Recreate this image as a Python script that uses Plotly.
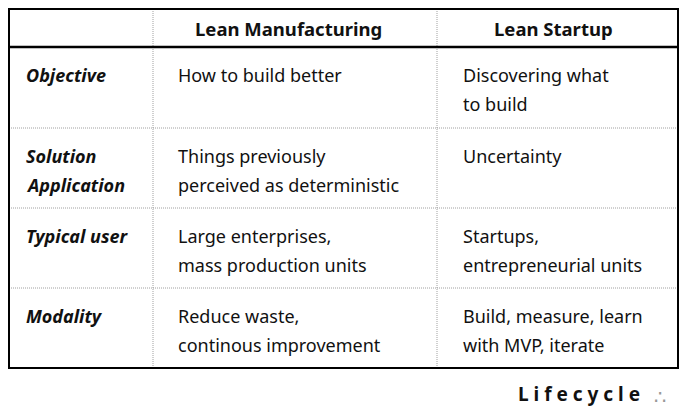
import plotly.graph_objects as go

headers = ["Lean Manufacturing", "Lean Startup"]
criteria = ["Objective", "Solution<br>Application", "Typical user", "Modality"]
manufacturing = [
    "How to build better",
    "Things previously<br>perceived as deterministic",
    "Large enterprises,<br>mass production units",
    "Reduce waste,<br>continous improvement",
]
startup = [
    "Discovering what<br>to build",
    "Uncertainty",
    "Startups,<br>entrepreneurial units",
    "Build, measure, learn<br>with MVP, iterate",
]

# page body has an 8px margin, so the figure is drawn 8px in from the window edge
OFF = 8
W, H = 689 - OFF, 417 - OFF
def px_x(v): return (v - OFF) / W
def px_y(v): return 1 - (v - OFF) / H

FONT = "Noto Sans"
row_tops = [47, 128, 208, 288]
col_x = [24, 176, 461]
header_x = [288, 553]

ann = []
for hx, h in zip(header_x, headers):
    ann.append(dict(text="<b>%s</b>" % h, x=px_x(hx), y=px_y(29), xanchor="center",
                    font=dict(family=FONT, size=18.5, color="#111")))
for col, texts in enumerate([criteria, manufacturing, startup]):
    for r, t in enumerate(texts):
        for k, line in enumerate(t.split("<br>")):
            if col == 0:
                line = "<b><i>%s</i></b>" % line
            ann.append(dict(text=line, x=px_x(col_x[col]), y=px_y(row_tops[r] + 28 + 29 * k),
                            xanchor="left", font=dict(family=FONT, size=18, color="#111")))
for a in ann:
    a.update(xref="paper", yref="paper", yanchor="middle", showarrow=False)

ann.append(dict(text="<b>L i f e c y c l e</b>", x=px_x(642), y=px_y(394), xref="paper", yref="paper",
                xanchor="right", yanchor="middle", showarrow=False,
                font=dict(family=FONT, size=19, color="#111")))
ann.append(dict(text="∴", x=px_x(660), y=px_y(397), xref="paper", yref="paper",
                xanchor="center", yanchor="middle", showarrow=False,
                font=dict(family="DejaVu Sans", size=20, color="#999")))

L, R, T, B = 9, 678, 9, 368
dotted = dict(color="#888", width=0.8, dash="1px,1px")
shapes = []
for y in [128, 208, 288]:
    shapes.append(dict(type="line", xref="paper", yref="paper", x0=px_x(L), x1=px_x(R),
                       y0=px_y(y), y1=px_y(y), line=dotted))
for x in [153, 437]:
    shapes.append(dict(type="line", xref="paper", yref="paper", x0=px_x(x), x1=px_x(x),
                       y0=px_y(T), y1=px_y(B), line=dotted))
shapes.append(dict(type="line", xref="paper", yref="paper", x0=px_x(L), x1=px_x(R),
                   y0=px_y(47), y1=px_y(47), line=dict(color="black", width=2.5)))
shapes.append(dict(type="rect", xref="paper", yref="paper", x0=px_x(L), x1=px_x(R),
                   y0=px_y(B), y1=px_y(T), line=dict(color="black", width=2)))

fig = go.Figure()
fig.update_layout(
    width=W, height=H,
    margin=dict(l=0, r=0, t=0, b=0),
    paper_bgcolor="white", plot_bgcolor="white",
    xaxis=dict(visible=False), yaxis=dict(visible=False),
    shapes=shapes, annotations=ann,
)

fig.write_html("out.html")
